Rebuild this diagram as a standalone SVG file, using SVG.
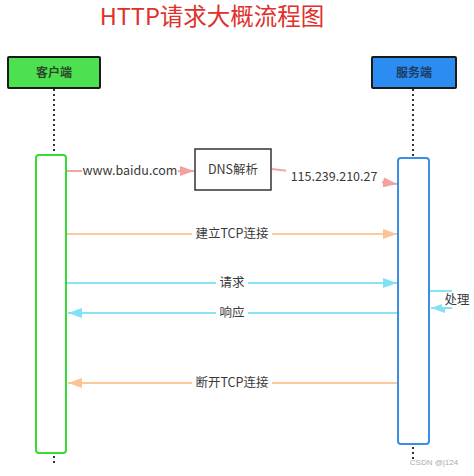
<svg xmlns="http://www.w3.org/2000/svg" width="474" height="476" viewBox="0 0 474 476">
<style>
.lbl{font-family:"Noto Sans CJK SC","Liberation Sans",sans-serif;font-size:12.5px;fill:#3a3a3a}
.life{stroke:#333;stroke-width:2;stroke-dasharray:2 3}
.pink{stroke:#f4a4a4;stroke-width:2;fill:none}
.orange{stroke:#fcc99c;stroke-width:2;fill:none}
.cyan{stroke:#86e4f4;stroke-width:2;fill:none}
</style>
<defs>
<marker id="mp" viewBox="0 0 14 10" refX="14" refY="5" markerWidth="14" markerHeight="10" markerUnits="userSpaceOnUse" orient="auto"><path d="M0,0 L14,5 L0,10 z" fill="#f4a0a0"/></marker>
<marker id="mo" viewBox="0 0 14 10" refX="14" refY="5" markerWidth="14" markerHeight="10" markerUnits="userSpaceOnUse" orient="auto"><path d="M0,0 L14,5 L0,10 z" fill="#fcc496"/></marker>
<marker id="mc" viewBox="0 0 14 10" refX="14" refY="5" markerWidth="14" markerHeight="10" markerUnits="userSpaceOnUse" orient="auto"><path d="M0,0 L14,5 L0,10 z" fill="#80e2f4"/></marker>
</defs>
<rect width="474" height="476" fill="#ffffff"/>
<text x="212" y="25" text-anchor="middle" style="font-family:'Noto Sans CJK SC','Liberation Sans',sans-serif;font-size:23.5px;fill:#e0302c">HTTP请求大概流程图</text>

<g id="connectors">
<line class="life" x1="54" y1="89" x2="54" y2="154"/>
<line class="life" x1="54" y1="456" x2="54" y2="466"/>
<line class="life" x1="413" y1="89" x2="413" y2="156"/>
<line class="life" x1="413" y1="447" x2="413" y2="462"/>
<line class="pink" x1="67" y1="171" x2="194" y2="171" marker-end="url(#mp)"/>
<line class="pink" x1="272" y1="169" x2="397" y2="184" marker-end="url(#mp)"/>
<line class="orange" x1="67" y1="234" x2="397" y2="234" marker-end="url(#mo)"/>
<line class="cyan" x1="67" y1="283" x2="397" y2="283" marker-end="url(#mc)"/>
<line class="cyan" x1="398" y1="313" x2="68" y2="313" marker-end="url(#mc)"/>
<polyline class="cyan" points="430,291 452,291"/>
<line class="cyan" x1="452" y1="308" x2="431" y2="308" marker-end="url(#mc)"/>
<line class="orange" x1="398" y1="383" x2="68" y2="383" marker-end="url(#mo)"/>
</g>

<g id="client">
<rect x="8" y="57" width="92" height="31" fill="#4de050" stroke="#1a1a1a" stroke-width="2" rx="1"/>
<text x="54" y="77" text-anchor="middle" style="font-family:'Noto Sans CJK SC',sans-serif;font-size:12px;font-weight:bold;fill:#2a4a2a">客户端</text>
</g>
<g id="server">
<rect x="372" y="57" width="84" height="31" fill="#2b8cf2" stroke="#1a1a1a" stroke-width="2" rx="1"/>
<text x="414" y="77" text-anchor="middle" style="font-family:'Noto Sans CJK SC',sans-serif;font-size:12px;font-weight:bold;fill:#1c3c66">服务端</text>
</g>
<g id="client-bar">
<rect x="36" y="155" width="30" height="298" rx="3" fill="#ffffff" stroke="#33dd33" stroke-width="2"/>
</g>
<g id="server-bar">
<rect x="398" y="158" width="31" height="286" rx="3" fill="#ffffff" stroke="#3a8ee6" stroke-width="2"/>
</g>
<g id="dns">
<rect x="195" y="149" width="76" height="41" fill="#ffffff" stroke="#333" stroke-width="1.5"/>
<text x="233" y="174" text-anchor="middle" class="lbl">DNS解析</text>
</g>

<g id="labels">
<rect x="82" y="162" width="96" height="17" fill="#ffffff"/>
<text x="130" y="175" text-anchor="middle" class="lbl">www.baidu.com</text>
<rect x="286" y="168" width="96" height="17" fill="#ffffff"/>
<text x="334" y="181" text-anchor="middle" class="lbl">115.239.210.27</text>
<rect x="192" y="225" width="80" height="17" fill="#ffffff"/>
<text x="232" y="238" text-anchor="middle" class="lbl">建立TCP连接</text>
<rect x="216" y="274" width="32" height="17" fill="#ffffff"/>
<text x="232" y="287" text-anchor="middle" class="lbl">请求</text>
<rect x="216" y="304" width="32" height="17" fill="#ffffff"/>
<text x="232" y="317" text-anchor="middle" class="lbl">响应</text>
<rect x="442" y="292" width="30" height="15" fill="#ffffff"/>
<text x="457" y="304" text-anchor="middle" class="lbl">处理</text>
<rect x="192" y="374" width="80" height="17" fill="#ffffff"/>
<text x="232" y="387" text-anchor="middle" class="lbl">断开TCP连接</text>
<text x="434" y="465" text-anchor="middle" style="font-family:'Liberation Sans',sans-serif;font-size:8px;fill:#aaaaaa">CSDN @|124</text>
</g>
</svg>
